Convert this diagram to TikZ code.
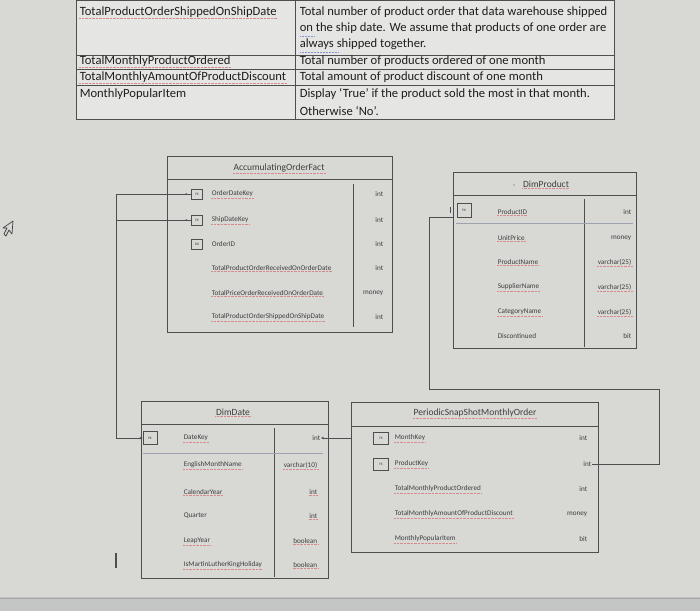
\documentclass[tikz,border=0pt]{standalone}
\usepackage{fontspec}
\setmainfont{Carlito}
\usetikzlibrary{arrows.meta,calc}
\definecolor{bg}{HTML}{D8D8D5}
\definecolor{paper}{HTML}{E5E5E3}
\definecolor{ln}{HTML}{4E4E4E}
\definecolor{tx}{HTML}{1E1E1E}
\definecolor{ftx}{HTML}{3E3E3E}
\definecolor{sepc}{HTML}{9CA2B0}
\definecolor{squig}{HTML}{D88A8A}
\definecolor{gram}{HTML}{7F95CC}
\definecolor{band}{HTML}{C4C6C5}
\tikzset{
  tbl/.style={draw=ln, line width=0.8pt},
  tcell/.style={anchor=west, inner sep=0.6pt, text=tx, font=\fontsize{12.6}{15}\selectfont},
  erbox/.style={draw=ln, line width=0.7pt, inner sep=0pt, anchor=north west},
  erline/.style={draw=ln, line width=0.6pt},
  ertitle/.style={text=ftx, inner sep=0.6pt, font=\fontsize{9.5}{11}\selectfont},
  fname/.style={anchor=west, inner sep=0.6pt, text=ftx, font=\fontsize{7.2}{8}\selectfont},
  ftype/.style={anchor=east, inner sep=0.6pt, text=ftx, font=\fontsize{7.2}{8}\selectfont},
  keybox/.style={draw=ln, line width=0.6pt, minimum width=13pt, minimum height=12pt, inner sep=0pt, text=ftx, font=\fontsize{3.5}{4}\selectfont},
  sq/.style={append after command={(\tikzlastnode.south west) edge[draw=squig, densely dotted, line width=0.4pt] (\tikzlastnode.south east)}},
  conn/.style={draw=ln, line width=0.7pt},
  tip/.style={-{Stealth[length=3pt,width=2.6pt]}},
  sepl/.style={draw=sepc, line width=0.8pt}
}
\begin{document}
\begin{tikzpicture}[x=1pt,y=-1pt]
\useasboundingbox (0,0) rectangle (700,611);
\fill[bg] (0,0) rectangle (700,611);
\fill[band] (0,597) rectangle (700,611);
\draw[draw=gray!70, line width=0.8pt] (0,598) -- (700,598);

% ---------- top table ----------
\fill[paper] (76,0) rectangle (614,119);
\draw[tbl] (76,0) rectangle (614,119);
\draw[tbl] (295,0) -- (295,119);
\draw[tbl] (76,55) -- (614,55);
\draw[tbl] (76,69) -- (614,69);
\draw[tbl] (76,85) -- (614,85);

\node[tcell, sq] (t1a) at (79,12) {TotalProductOrderShippedOnShipDate};
\node[tcell] (t1b) at (299,12) {Total number of product order that data warehouse shipped};
\node[tcell] (t1c) at (299,28) {on the ship date. We assume that products of one order are};
\node[tcell] (t1d) at (299,44) {always shipped together.};
\draw[draw=gram, densely dotted, line width=0.5pt] (300,36) -- (315,36);
\draw[draw=gram, densely dotted, line width=0.5pt] (300,52) -- (339,52);
\node[tcell, sq] (t2a) at (79,61) {TotalMonthlyProductOrdered};
\node[tcell] (t2b) at (299,61) {Total number of products ordered of one month};
\node[tcell, sq] (t3a) at (79,77) {TotalMonthlyAmountOfProductDiscount};
\node[tcell] (t3b) at (299,77) {Total amount of product discount of one month};
\node[tcell] (t4a) at (79,94) {MonthlyPopularItem};
\node[tcell] (t4b) at (299,94) {Display ‘True’ if the product sold the most in that month.};
\node[tcell] (t4c) at (299,111) {Otherwise ‘No’.};

% ---------- AccumulatingOrderFact ----------
\node[erbox, minimum width=225pt, minimum height=176pt] (acc) at (167,156) {};
\draw[erline] (167,179) -- (392,179);
\draw[erline] (353,184) -- (353,327);
\node[ertitle, sq] (accT) at (279,168) {AccumulatingOrderFact};
\node[keybox, minimum width=11pt, minimum height=10pt] (accK1) at (197,194) {FK};
\node[keybox, minimum width=11pt, minimum height=10pt] (accK2) at (197,220) {FK};
\node[keybox, minimum width=11pt, minimum height=10pt] (accK3) at (197,244) {DD};
\node[fname, sq] (accN1) at (211,194) {OrderDateKey};
\node[fname, sq] (accN2) at (211,220) {ShipDateKey};
\node[fname] (accN3) at (211,244) {OrderID};
\node[fname, sq] (accN4) at (211,268) {TotalProductOrderReceivedOnOrderDate};
\node[fname, sq] (accN5) at (211,293) {TotalPriceOrderReceivedOnOrderDate};
\node[fname, sq] (accN6) at (211,317) {TotalProductOrderShippedOnShipDate};
\node[ftype] (accY1) at (384,194) {int};
\node[ftype] (accY2) at (384,220) {int};
\node[ftype] (accY3) at (384,244) {int};
\node[ftype] (accY4) at (384,268) {int};
\node[ftype] (accY5) at (384,293) {money};
\node[ftype] (accY6) at (384,317) {int};

% ---------- DimProduct ----------
\node[erbox, minimum width=183pt, minimum height=176pt] (prod) at (453,172) {};
\draw[erline] (453,195) -- (636,195);
\draw[erline] (584,199) -- (584,347);
\draw[sepl] (456,223) -- (633,223);
\node[ertitle, sq] (prodT) at (546,184) {DimProduct};
\fill[ln] (514,185) circle (0.7pt);
\node[keybox, minimum width=14pt, minimum height=14pt] (prodK) at (464,210) {PK};
\node[fname, sq] (prodN1) at (497,212) {ProductID};
\node[fname, sq] (prodN2) at (497,238) {UnitPrice};
\node[fname, sq] (prodN3) at (497,262) {ProductName};
\node[fname, sq] (prodN4) at (497,287) {SupplierName};
\node[fname, sq] (prodN5) at (497,312) {CategoryName};
\node[fname] (prodN6) at (497,336) {Discontinued};
\node[ftype] (prodY1) at (632,212) {int};
\node[ftype] (prodY2) at (632,238) {money};
\node[ftype, sq] (prodY3) at (632,262) {varchar(25)};
\node[ftype, sq] (prodY4) at (632,287) {varchar(25)};
\node[ftype, sq] (prodY5) at (632,312) {varchar(25)};
\node[ftype] (prodY6) at (632,336) {bit};

% ---------- DimDate ----------
\node[erbox, minimum width=187pt, minimum height=177pt] (dim) at (141,401) {};
\draw[erline] (141,424) -- (328,424);
\draw[erline] (274,428) -- (274,577);
\draw[sepl] (143,453) -- (323,453);
\node[ertitle, sq] (dimT) at (233,412) {DimDate};
\node[keybox, minimum width=14pt, minimum height=13pt] (dimK) at (150,438) {PK};
\node[fname, sq] (dimN1) at (183,438) {DateKey};
\node[fname, sq] (dimN2) at (183,465) {EnglishMonthName};
\node[fname, sq] (dimN3) at (183,492) {CalendarYear};
\node[fname] (dimN4) at (183,516) {Quarter};
\node[fname, sq] (dimN5) at (183,541) {LeapYear};
\node[fname, sq] (dimN6) at (183,565) {IsMartinLutherKingHoliday};
\node[ftype] (dimY1) at (321,438) {int};
\node[ftype, sq] (dimY2) at (318,465) {varchar(10)};
\node[ftype, sq] (dimY3) at (318,492) {int};
\node[ftype, sq] (dimY4) at (318,516) {int};
\node[ftype, sq] (dimY5) at (318,541) {boolean};
\node[ftype, sq] (dimY6) at (318,565) {boolean};

% ---------- PeriodicSnapShotMonthlyOrder ----------
\node[erbox, minimum width=247pt, minimum height=150pt] (per) at (351,402) {};
\draw[erline] (351,426) -- (598,426);
\node[ertitle, sq] (perT) at (475,413) {PeriodicSnapShotMonthlyOrder};
\node[keybox, minimum width=15pt, minimum height=12pt] (perK1) at (381,438) {FK};
\node[keybox, minimum width=15pt, minimum height=12pt] (perK2) at (381,464) {FK};
\node[fname, sq] (perN1) at (394,438) {MonthKey};
\node[fname, sq] (perN2) at (394,464) {ProductKey};
\node[fname, sq] (perN3) at (394,489) {TotalMonthlyProductOrdered};
\node[fname, sq] (perN4) at (394,514) {TotalMonthlyAmountOfProductDiscount};
\node[fname, sq] (perN5) at (394,539) {MonthlyPopularItem};
\node[ftype] (perY1) at (588,438) {int};
\node[ftype] (perY2) at (592,464) {int};
\node[ftype] (perY3) at (588,489) {int};
\node[ftype] (perY4) at (588,514) {money};
\node[ftype] (perY5) at (588,539) {bit};

% ---------- connectors ----------
\coordinate (bus) at (116,194);
\draw[conn, tip] (accK1.west) -- (bus) |- (dimK.west);
\draw[conn] (accK2.west) -- (accK2.west -| bus);
\fill[ln] ($(accK1.west)+(-5,0)$) circle (0.9pt);
\fill[ln] ($(accK2.west)+(-5,0)$) circle (0.9pt);

\draw[conn, tip] (per.west |- dimY1.east) -- (dimY1.east);

\coordinate (rc1) at (659,389);
\coordinate (rc2) at (429,389);
\coordinate (pin) at (453,217);
\draw[conn] (perY2.east) -| (rc1) -- (rc2) |- (pin);
\draw[conn] (450,207) -- (450,213);

% ---------- caret and mouse pointer ----------
\draw[draw=ln, line width=1.1pt] (116,553) -- (116,568);
\draw[draw=gray!50!black, line width=0.7pt, line join=round]
  (13,221) -- (12,234) -- (9,230) -- (6,236) -- (4,234) -- (7,228) -- (3,228) -- cycle;
\end{tikzpicture}
\end{document}
